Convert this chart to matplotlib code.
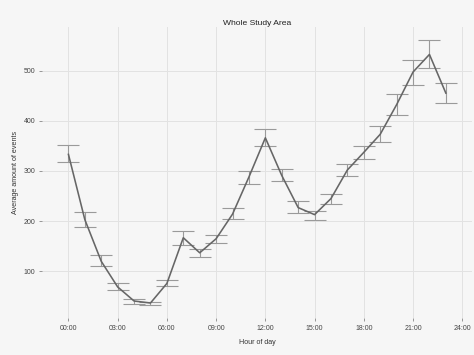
import matplotlib
matplotlib.use("Agg")
import matplotlib.pyplot as plt

plt.rcParams['font.family'] = ['Liberation Sans', 'DejaVu Sans']

# average events per hour with error bars
hours = list(range(24))
mean_events = [333, 203, 120, 69, 41, 37, 76, 167, 137, 165, 214, 288,
               366, 291, 227, 213, 245, 302, 337, 373, 432, 497, 532, 455]
err_low = [16, 15, 10, 7, 5, 4, 5, 14, 8, 8, 9, 13,
           16, 12, 10, 10, 10, 13, 13, 15, 20, 25, 27, 20]
err_high = [19, 16, 12, 8, 4, 3, 6, 14, 7, 8, 12, 12,
            17, 13, 14, 8, 10, 12, 13, 16, 21, 24, 28, 20]
x_ticks = [0, 3, 6, 9, 12, 15, 18, 21, 24]
x_labels = ['00:00', '03:00', '06:00', '09:00', '12:00', '15:00', '18:00', '21:00', '24:00']
y_ticks = [100, 200, 300, 400, 500]

bg = '#f6f6f6'
fig = plt.figure(figsize=(4.74, 3.55), dpi=100, facecolor=bg)
ax = fig.add_axes([0.089, 0.104, 0.907, 0.819])
ax.set_facecolor(bg)

ax.errorbar(hours, mean_events, yerr=[err_low, err_high], fmt='none',
            ecolor='#9a9a9a', elinewidth=0.8, capsize=8, capthick=0.8, zorder=2)
ax.plot(hours, mean_events, color='#666666', lw=1.15, zorder=3)

ax.set_xlim(-1.6, 24.6)
ax.set_ylim(7, 586)
ax.set_xticks(x_ticks)
ax.set_xticklabels(x_labels)
ax.set_yticks(y_ticks)
ax.grid(True, color='#e2e2e2', lw=0.7)
ax.set_axisbelow(True)
for s in ax.spines.values():
    s.set_visible(False)
ax.tick_params(colors='#888888', labelcolor='#444444', labelsize=5, length=2, width=0.6, pad=3)

ax.set_title('Whole Study Area', fontsize=6.1, color='#222222', pad=0.5)
ax.set_xlabel('Hour of day', fontsize=5.1, color='#333333', labelpad=5)
ax.set_ylabel('Average amount of events', fontsize=5.1, color='#333333', labelpad=3)

fig.savefig('out.png', dpi=100, facecolor=bg)
